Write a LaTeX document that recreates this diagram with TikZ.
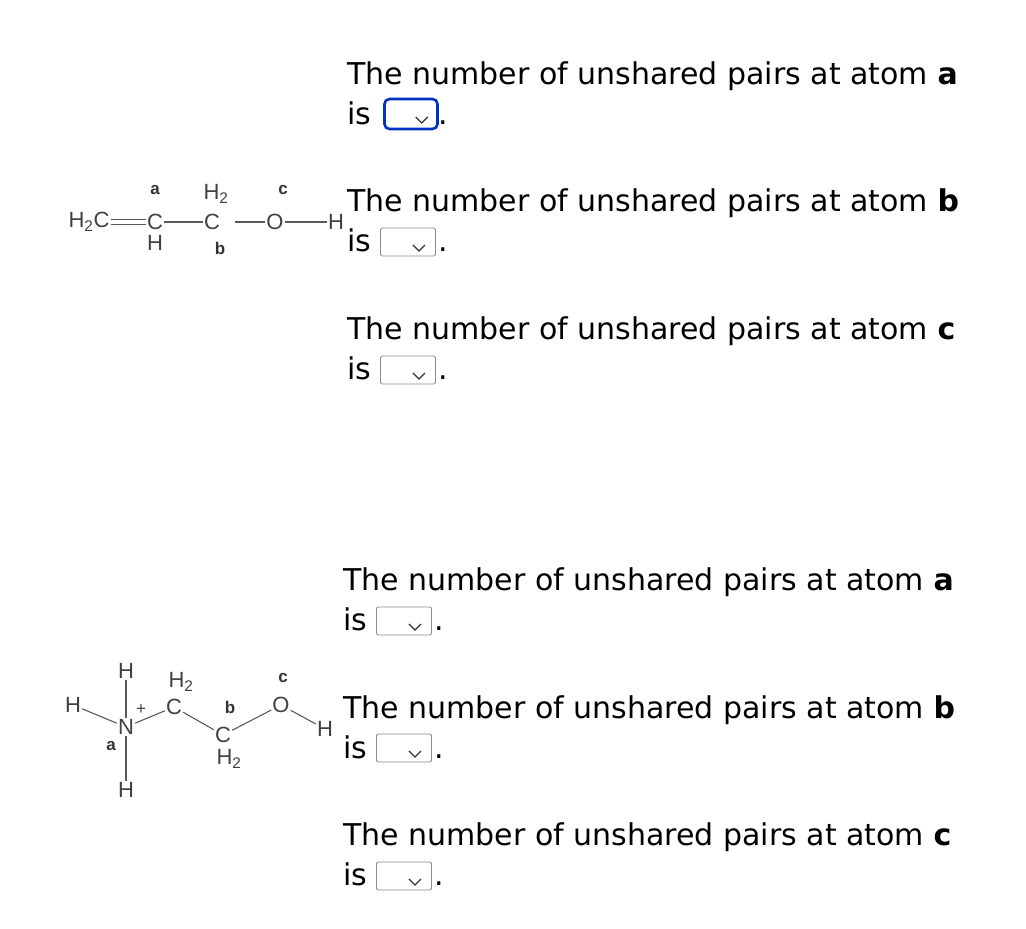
\documentclass[tikz,border=0pt]{standalone}
\usepackage{fontspec}
\setmainfont{DejaVu Sans}
\newfontfamily\molfont{Liberation Sans}
\begin{document}
\begin{tikzpicture}[x=1pt,y=-1pt,
  qtext/.style={anchor=base west,inner sep=0pt,font=\fontsize{30}{34}\selectfont},
  box/.style={draw=black!45,line width=0.9pt,rounded corners=2pt,minimum width=55pt,minimum height=28pt,inner sep=0pt},
  selbox/.style={draw=blue!70!black!80!cyan,line width=2.6pt,rounded corners=5pt,minimum width=53pt,minimum height=30pt,inner sep=0pt},
  atom/.style={inner sep=1pt,font=\molfont\fontsize{22}{24}\selectfont,text=black!75},
  lab/.style={inner sep=0pt,font=\molfont\bfseries\fontsize{17}{19}\selectfont,text=black!80},
  bond/.style={draw=black!65,line width=1.1pt}]
\useasboundingbox (0,0) rectangle (1026,929);
\newcommand{\qblock}[4]{%
  \node[qtext] (t#4) at (#1,#2) {The number of unshared pairs at atom \textbf{#3}};
  \node[qtext] (i#4) at (#1,#2+40) {is};
  \node[qtext] (d#4) at (#1+91,#2+40) {.};
}
\qblock{347}{84}{a}{1}
\qblock{347}{211}{b}{2}
\qblock{347}{339}{c}{3}
\qblock{343}{590}{a}{4}
\qblock{343}{718}{b}{5}
\qblock{343}{845}{c}{6}
\node[selbox] (b1) at (411,114) {};
\node[box] (b2) at (408,242) {};
\node[box] (b3) at (408,370) {};
\node[box] (b4) at (404,621) {};
\node[box] (b5) at (404,748) {};
\node[box] (b6) at (404,876) {};
\foreach \b in {b1,b2,b3,b4,b5,b6}{
  \draw[line width=1.3pt,black!80] ([xshift=-23pt,yshift=-3pt]\b.east) -- ++(6,6) -- ++(6,-6);
}
% molecule 1
\node[atom] (m1h2c) at (89,222) {H\textsubscript{2}C};
\node[atom] (m1ca) at (155,222) {C};
\node[atom] (m1h) at (155,243) {H};
\node[lab] (m1a) at (155,190) {a};
\node[atom] (m1cb) at (212,222) {C};
\node[atom] (m1h2) at (216,194) {H\textsubscript{2}};
\node[lab] (m1b) at (220,248) {b};
\node[atom] (m1o) at (275,222) {O};
\node[lab] (m1c) at (283,190) {c};
\node[atom] (m1hh) at (336,222) {H};
\draw[bond] ([yshift=-2.5pt]m1h2c.east) -- ([yshift=-2.5pt]m1ca.west);
\draw[bond] ([yshift=2.5pt]m1h2c.east) -- ([yshift=2.5pt]m1ca.west);
\draw[bond] (m1ca) -- (m1cb);
\draw[bond] ([xshift=14pt]m1cb.east) -- (m1o);
\draw[bond] (m1o) -- (m1hh);
% molecule 2
\node[atom] (m2n) at (126,727) {N};
\node[atom] (m2hl) at (73,705) {H};
\node[atom] (m2ht) at (126,671) {H};
\node[atom] (m2hb) at (126,790) {H};
\node[lab] (m2a) at (111,746) {a};
\node[inner sep=0pt,font=\molfont\fontsize{17}{19}\selectfont,text=black!75] (m2p) at (141,710) {+};
\node[atom] (m2c1) at (174,707) {C};
\node[atom] (m2h1) at (181,682) {H\textsubscript{2}};
\node[atom] (m2c2) at (223,735) {C};
\node[atom] (m2h2) at (229,759) {H\textsubscript{2}};
\node[lab] (m2b) at (230,707) {b};
\node[atom] (m2o) at (281,705) {O};
\node[lab] (m2c) at (283,678) {c};
\node[atom] (m2h) at (325,729) {H};
\draw[bond] (m2hl) -- (m2n);
\draw[bond] (m2ht) -- (m2n);
\draw[bond] (m2hb) -- (m2n);
\draw[bond] (m2n) -- (m2c1);
\draw[bond] (m2c1) -- (m2c2);
\draw[bond] (m2c2) -- (m2o);
\draw[bond] (m2o) -- (m2h);
\end{tikzpicture}
\end{document}
